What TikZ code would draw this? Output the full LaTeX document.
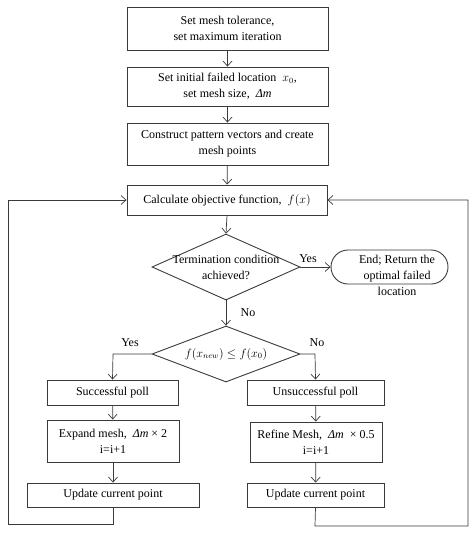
\documentclass[tikz,border=0pt]{standalone}
\usepackage{fontspec}
\setmainfont{Liberation Serif}
\usetikzlibrary{arrows.meta,shapes.geometric}
\definecolor{ln}{HTML}{3A3A3A}
\tikzset{
  box/.style={draw=ln, line width=0.9pt, rectangle, align=center, inner sep=1pt, font=\fontsize{12}{16}\selectfont},
  dia/.style={draw=ln, line width=0.9pt, diamond, inner sep=0pt},
  term/.style={draw=ln, line width=0.9pt, rectangle, rounded corners=17pt},
  txt/.style={align=center, inner sep=0pt, font=\fontsize{12}{16}\selectfont},
  lab/.style={inner sep=0pt, font=\fontsize{12}{13}\selectfont},
  arr/.style={draw=ln, line width=0.7pt, -{Straight Barb[length=5pt,width=9pt]}},
  lin/.style={draw=ln, line width=0.7pt}
}
\begin{document}
\begin{tikzpicture}[x=1pt,y=-1pt]
\useasboundingbox (0,0) rectangle (474,535);
\node[box, minimum width=201pt, minimum height=43pt] (b1) at (227.5,28.5) {Set mesh tolerance,\\set maximum iteration};
\node[box, minimum width=201pt, minimum height=39pt] (b2) at (227.5,86.5) {Set initial failed location \ $x_0$,\\set mesh size, \ \textit{Δm}};
\node[box, minimum width=201pt, minimum height=42pt] (b3) at (227.5,144) {Construct pattern vectors and create\\mesh points};
\node[box, minimum width=200pt, minimum height=30pt] (b4) at (227,200) {Calculate objective function, \ $f(x)$};
\node[dia, minimum width=148pt, minimum height=66pt] (d1) at (226,267) {};
\node[txt] (d1t) at (226,267) {Termination condition\\achieved?};
\node[term, minimum width=117pt, minimum height=34pt] (t) at (389.5,267) {};
\node[txt] (tt) at (397,275) {End; Return the\\optimal failed\\location};
\node[dia, minimum width=148pt, minimum height=56pt] (d2) at (226,354) {};
\node[txt] (d2t) at (226,354) {$f(x_{new}) \le f(x_0)$};
\node[box, minimum width=131pt, minimum height=25pt] (s) at (112.5,392.5) {Successful poll};
\node[box, minimum width=137pt, minimum height=25pt] (u) at (315.5,392.5) {Unsuccessful poll};
\node[box, minimum width=132pt, minimum height=42pt] (e) at (113,441) {Expand mesh, \ \textit{Δm} × 2\\i=i+1};
\node[box, minimum width=132pt, minimum height=40pt] (r) at (316,442) {Refine Mesh, \ \textit{Δm} \ × 0.5\\i=i+1};
\node[box, minimum width=172pt, minimum height=24pt] (ul) at (113,495) {Update current point};
\node[box, minimum width=137pt, minimum height=24pt] (ur) at (315.5,495) {Update current point};
\node[lab] (y1) at (308,259) {Yes};
\node[lab] (n1) at (248,313) {No};
\node[lab] (y2) at (130,343) {Yes};
\node[lab] (n2) at (317,343) {No};
\coordinate (cl) at (113,354);
\coordinate (cr) at (315,354);
\coordinate (l1) at (113,524);
\coordinate (l2) at (8,524);
\coordinate (l3) at (8,200);
\coordinate (r1) at (315,526);
\coordinate (r2) at (468,526);
\coordinate (r3) at (468,200);
\draw[arr] (b1) -- (b2);
\draw[arr] (b2) -- (b3);
\draw[arr] (b3) -- (b4);
\draw[arr] (b4.south) -- (d1.north);
\draw[arr] (d1.east) -- (t.west);
\draw[arr] (d1.south) -- (d2.north);
\draw[arr] (d2.west) -- (cl) -- (s.north);
\draw[arr] (d2.east) -- (cr) -- (u.north);
\draw[arr] (s) -- (e);
\draw[arr] (e) -- (ul);
\draw[arr] (u) -- (r);
\draw[arr] (r) -- (ur);
\draw[arr] (ul.south) -- (l1) -- (l2) -- (l3) -- (b4.west);
\draw[arr] (ur.south) -- (r1) -- (r2) -- (r3) -- (b4.east);
\end{tikzpicture}
\end{document}
